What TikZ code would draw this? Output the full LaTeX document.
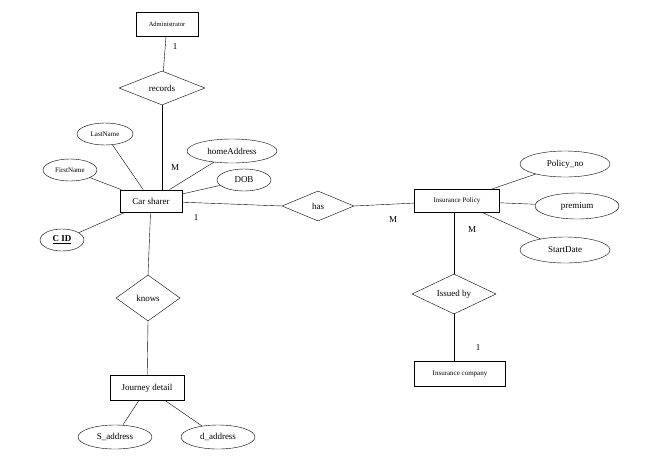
\documentclass[tikz,border=0pt]{standalone}
\usepackage{fontspec}
\setmainfont{Liberation Serif}
\usetikzlibrary{shapes.geometric}
\begin{document}
\begin{tikzpicture}[x=1pt,y=-1pt,
 every node/.style={font=\fontsize{9}{10}\selectfont},
 ent/.style={draw,thick,rectangle,minimum height=22pt,inner sep=2pt},
 rel/.style={draw,diamond,aspect=2,inner sep=0pt},
 att/.style={draw,ellipse,inner sep=0pt},
 sm/.style={font=\fontsize{7}{8}\selectfont},
 lbl/.style={font=\fontsize{9}{10}\selectfont}]
\useasboundingbox (0,0) rectangle (671,461);
\node[ent,sm,minimum width=62pt,minimum height=24pt] (adm) at (167,24) {\fontsize{6.5}{7}\selectfont Administrator};
\node[rel,minimum width=86pt,minimum height=34pt] (rec) at (162,88) {records};
\node[ent,minimum width=62pt] (car) at (151,201) {Car sharer};
\node[att,sm,minimum width=56pt,minimum height=22pt] (ln) at (105,134) {LastName};
\node[att,sm,minimum width=54pt,minimum height=22pt] (fn) at (70,170) {FirstName};
\node[att,minimum width=90pt,minimum height=24pt] (ha) at (232,151) {homeAddress};
\node[att,minimum width=54pt,minimum height=22pt] (dob) at (244,180) {DOB};
\node[att,minimum width=44pt,minimum height=22pt] (cid) at (62,240) {\textbf{\underline{C ID}}};
\node[rel,minimum width=72pt,minimum height=30pt] (has) at (318,206) {has};
\node[ent,sm,minimum width=85pt,minimum height=23pt] (ip) at (457,201) {Insurance Policy};
\node[att,minimum width=90pt,minimum height=26pt] (pn) at (565,164) {Policy\_no};
\node[att,minimum width=84pt,minimum height=26pt] (pr) at (577,206) {premium};
\node[att,minimum width=90pt,minimum height=26pt] (sd) at (565,250) {StartDate};
\node[rel,minimum width=84pt,minimum height=40pt] (iss) at (454,294) {Issued by};
\node[ent,sm,minimum width=91pt,minimum height=25pt] (ic) at (460,374) {Insurance company};
\node[rel,minimum width=64pt,minimum height=46pt] (kn) at (148,298) {knows};
\node[ent,minimum width=74pt,minimum height=25pt] (jd) at (147,388) {Journey detail};
\node[att,minimum width=74pt,minimum height=24pt] (sa) at (115,437) {S\_address};
\node[att,minimum width=74pt,minimum height=24pt] (da) at (218,437) {d\_address};
\draw (adm) -- (rec);
\draw (rec) -- (car.north -| 162,0);
\draw (ln) -- (car); \draw (fn) -- (car); \draw (ha) -- (car); \draw (dob) -- (car); \draw (cid) -- (car);
\draw (car) -- (has.west); \draw (has.east) -- (ip);
\draw (ip) -- (pn); \draw (ip) -- (pr); \draw (ip) -- (sd);
\draw (ip.south -| iss.north) -- (iss.north);
\draw (iss.south) -- (ic.north -| iss.south);
\draw (car) -- (kn.north); \draw (kn.south) -- (jd);
\draw (jd) -- (sa); \draw (jd) -- (da);
\node[lbl] (l1) at (175,47) {1};
\node[lbl] (l2) at (175,168) {M};
\node[lbl] (l3) at (196,218) {1};
\node[lbl] (l4) at (393,220) {M};
\node[lbl] (l5) at (472,230) {M};
\node[lbl] (l6) at (478,348) {1};
\end{tikzpicture}
\end{document}
